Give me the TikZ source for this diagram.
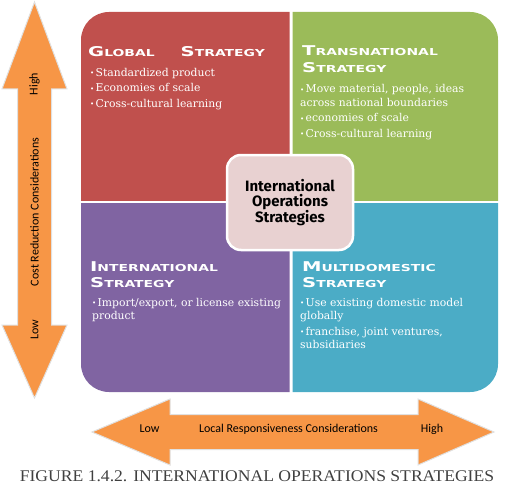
\documentclass[tikz,border=0pt]{standalone}
\usepackage{fontspec}
\setmainfont{DejaVu Serif}
\newfontfamily\headf{DejaVu Sans}[FakeStretch=1.45]
\newfontfamily\centf{Fira Sans}
\newfontfamily\arrf{Carlito}
\newfontfamily\capf{Liberation Serif}[FakeStretch=1.08]
\definecolor{redq}{HTML}{C0504D}
\definecolor{greenq}{HTML}{9BBB59}
\definecolor{purpq}{HTML}{8064A2}
\definecolor{blueq}{HTML}{4BACC6}
\definecolor{orangeq}{HTML}{F79646}
\definecolor{pinkq}{HTML}{E8D1D1}
\definecolor{capgray}{HTML}{404040}
\newcommand\hc[2]{{\fontsize{13.5}{16.5}\selectfont #1}{\fontsize{9.6}{16.5}\selectfont #2}}
\newcommand\bul[1]{\par\hangindent=5.5pt\hangafter=1\noindent\makebox[5.5pt][l]{\raisebox{0.5pt}{\fontsize{7}{7}\selectfont\textbullet}}#1}
\newcommand\bodysetup{\fontsize{10.8}{13.5}\selectfont\parskip=2pt\raggedright}
\newcommand\headsetup{\headf\bfseries\fontsize{9.6}{16.5}\selectfont\raggedright}
\tikzset{
  bodytext/.style={anchor=base west, inner sep=0pt, text=white},
  headtext/.style={anchor=base west, inner sep=0pt, text=white},
  arrowshape/.style={fill=orangeq, draw=black!12, line width=1pt, line join=miter},
  arrlabel/.style={inner sep=0pt, font=\arrf\fontsize{12}{14}\selectfont, text=black},
  centbox/.style={fill=pinkq, draw=white, line width=2.5pt, rounded corners=14pt,
    minimum width=126pt, minimum height=95pt, align=center,
    font={\centf\bfseries\fontsize{15}{15}\selectfont}, text=black}
}
\begin{document}
\begin{tikzpicture}[x=1pt,y=-1pt]
\useasboundingbox (0,0) rectangle (505,484);
% quadrants
\begin{scope}
\clip (0,0) rectangle (289.5,200.5);
\fill[redq, rounded corners=28pt] (81,12) rectangle (498,392);
\end{scope}
\begin{scope}
\clip (292.5,0) rectangle (505,200.5);
\fill[greenq, rounded corners=28pt] (81,12) rectangle (498,392);
\end{scope}
\begin{scope}
\clip (0,203.5) rectangle (289.5,484);
\fill[purpq, rounded corners=28pt] (81,12) rectangle (498,392);
\end{scope}
\begin{scope}
\clip (292.5,203.5) rectangle (505,484);
\fill[blueq, rounded corners=28pt] (81,12) rectangle (498,392);
\end{scope}
% arrows
\draw[arrowshape] (34.5,2) -- (67,89) -- (51.5,89) -- (51.5,325) -- (67,325) -- (34.5,398)
  -- (2,325) -- (17.5,325) -- (17.5,89) -- (2,89) -- cycle;
\draw[arrowshape] (92,432) -- (170,399) -- (170,414.5) -- (418,414.5) -- (418,399) -- (494,432)
  -- (418,465) -- (418,449.5) -- (170,449.5) -- (170,465) -- cycle;
% arrow labels
\node[arrlabel, rotate=90] (vhigh) at (34.5,84) {High};
\node[arrlabel, rotate=90] (vcost) at (34.5,212) {Cost Reduction Considerations};
\node[arrlabel, rotate=90] (vlow) at (34.5,330) {Low};
\node[arrlabel] (hlow) at (149.5,429) {Low};
\node[arrlabel] (hlocal) at (288.5,429) {Local Responsiveness Considerations};
\node[arrlabel] (hhigh) at (432,429) {High};
% headings
\node[headtext] (tlh) at (88,57) {\parbox[t]{200pt}{\headsetup\hc{G}{LOBAL}\hspace{26pt}\hc{S}{TRATEGY}}};
\node[headtext] (trh) at (302,56) {\parbox[t]{190pt}{\headsetup\hc{T}{RANSNATIONAL}\\\hc{S}{TRATEGY}}};
\node[headtext] (blh) at (90,271) {\parbox[t]{190pt}{\headsetup\hc{I}{NTERNATIONAL}\\\hc{S}{TRATEGY}}};
\node[headtext] (brh) at (302,271) {\parbox[t]{190pt}{\headsetup\hc{M}{ULTIDOMESTIC}\\\hc{S}{TRATEGY}}};
% bullets
\node[bodytext] (tlb) at (90,76.5) {\parbox[t]{195pt}{\bodysetup
  \bul{Standardized product}\bul{Economies of scale}\bul{Cross-cultural learning}}};
\node[bodytext] (trb) at (300,92.5) {\parbox[t]{195pt}{\bodysetup
  \bul{Move material, people, ideas\\across national boundaries}\bul{economies of scale}\bul{Cross-cultural learning}}};
\node[bodytext] (blb) at (92,306) {\parbox[t]{195pt}{\bodysetup
  \bul{Import/export, or license existing\\product}}};
\node[bodytext] (brb) at (300,306) {\parbox[t]{195pt}{\bodysetup
  \bul{Use existing domestic model\\globally}\bul{franchise, joint ventures,\\subsidiaries}}};
% center
\node[centbox] (cent) at (290,202.5) {International\\Operations\\Strategies};
% caption
\node[inner sep=0pt, font={\capf\fontsize{16.3}{18}\selectfont}, text=capgray] (cap) at (257,476) {FIGURE 1.4.2. INTERNATIONAL OPERATIONS STRATEGIES};
\end{tikzpicture}
\end{document}
